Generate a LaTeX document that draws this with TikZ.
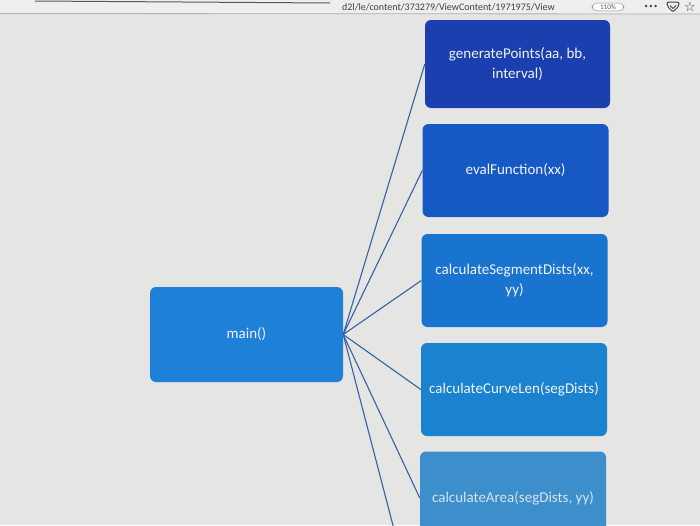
\documentclass[tikz,border=0pt]{standalone}
\usepackage{fontspec}
\setmainfont{Carlito}
\newfontfamily\symfont{DejaVu Sans}
\definecolor{bgc}{HTML}{E5E5E3}
\definecolor{barc}{HTML}{EEEEEE}
\definecolor{cone}{HTML}{1B3FAE}
\definecolor{ctwo}{HTML}{1659C4}
\definecolor{cthree}{HTML}{1874CF}
\definecolor{cfour}{HTML}{1B82D0}
\definecolor{cfive}{HTML}{3D8FCB}
\definecolor{cmain}{HTML}{1F80D8}
\definecolor{linkc}{HTML}{3562A5}
\definecolor{txtc}{HTML}{F2F2F2}
\tikzset{
  fbox/.style={rounded corners=6pt, minimum width=186pt, minimum height=93pt,
    inner sep=2pt, text=txtc, align=center, font=\fontsize{15}{20}\selectfont},
  link/.style={draw=linkc, line width=1.1pt}
}
\begin{document}
\begin{tikzpicture}[x=1pt,y=-1pt]
\useasboundingbox (0,0) rectangle (700,525);
\clip (0,0) rectangle (700,525);
\fill[bgc] (0,0) rectangle (700,525);
\fill[barc] (0,0) rectangle (700,13);
\draw[gray!70!black, line width=1pt] (35,1) -- (330,3);
\draw[gray!60, line width=0.8pt] (0,13.5) -- (700,14);
% browser chrome
\node[anchor=east, text=black!75, font=\fontsize{10}{10}\selectfont, inner sep=0pt] (url) at (555,7) {d2l/le/content/373279/ViewContent/1971975/View};
\node[draw=black!45, fill=white, rounded corners=5pt, inner sep=1.5pt, minimum width=32pt, font=\fontsize{7}{7}\selectfont, text=black!70] (zoomlvl) at (608,7) {110\%};
\node[font=\symfont\fontsize{8}{8}\selectfont, text=black!75] (dots) at (651,7) {•••};
\draw[black!75, line width=1pt, rounded corners=2pt] (667,2) -- (679,2) -- (679,6) -- (673,12) -- (667,6) -- cycle;
\draw[black!75, line width=1pt] (670,5.5) -- (673,8.5) -- (676,5.5);
\node[font=\symfont\fontsize{13}{13}\selectfont, text=black!75] (star) at (690,7) {☆};
% boxes
\node[fbox, fill=cone, minimum width=185pt, minimum height=88pt] (b1) at (517.5,64) {generatePoints(aa, bb,\\interval)};
\node[fbox, fill=ctwo] (b2) at (515.5,170.5) {evalFunction(xx)};
\node[fbox, fill=cthree] (b3) at (514.5,280.5) {calculateSegmentDists(xx,\\yy)};
\node[fbox, fill=cfour] (b4) at (514,389.5) {calculateCurveLen(segDists)};
\node[fbox, fill=cfive, text=txtc!85!cfive] (b5) at (513,498) {calculateArea(segDists, yy)};
\node[fbox, fill=cmain, minimum width=193pt, minimum height=95pt] (main) at (246.5,334.5) {main()};
\coordinate (off) at (402,560);
% connectors
\foreach \t in {b1,b2,b3,b4,b5} \draw[link] (main.east) -- (\t.west);
\draw[link] (main.east) -- (off);
\end{tikzpicture}
\end{document}
